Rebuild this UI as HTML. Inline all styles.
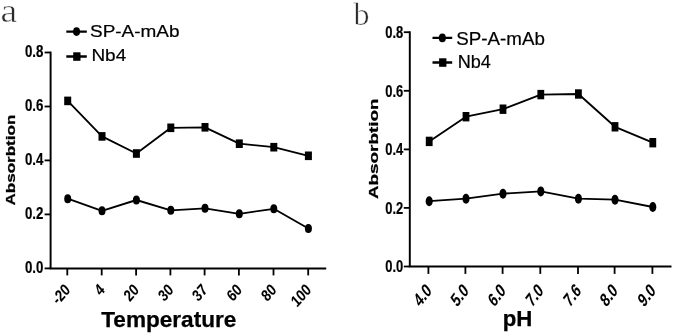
<!DOCTYPE html>
<html><head><meta charset="utf-8"><title>Absorbtion vs Temperature and pH</title>
<style>
html,body{margin:0;padding:0;background:#fff;}
svg{display:block}
text{font-family:"Liberation Sans",Arial,Helvetica,sans-serif;fill:#000}
.b{font-weight:bold;stroke:#000;stroke-width:0.25px}
.tk{font-weight:bold;stroke:#000;stroke-width:0.2px}
.tk.xl{stroke-width:0.08px}
.lg{stroke:#000;stroke-width:0.2px}
.pl{font-family:"Liberation Serif","Noto Serif CJK SC",serif;font-size:32px;fill:#2a2a2a;stroke:#fff;stroke-width:0.55px}
</style></head><body>
<svg width="675" height="336" viewBox="0 0 675 336">
<rect width="675" height="336" fill="#fff"/>

<g stroke="#000" stroke-width="1.95" fill="none" stroke-linecap="butt">
<path d="M50.6 51.6 V268.4"/>
<path d="M49.62 268.4 H326.2"/>
</g><g stroke="#000" stroke-width="1.8" fill="none">
<path d="M44.6 52.5 H50.6"/>
<path d="M44.6 106.5 H50.6"/>
<path d="M44.6 160.4 H50.6"/>
<path d="M44.6 214.4 H50.6"/>
<path d="M44.6 268.4 H50.6"/>
<path d="M67.3 268.4 V275.4"/>
<path d="M101.7 268.4 V275.4"/>
<path d="M136.1 268.4 V275.4"/>
<path d="M170.4 268.4 V275.4"/>
<path d="M204.6 268.4 V275.4"/>
<path d="M238.9 268.4 V275.4"/>
<path d="M273.5 268.4 V275.4"/>
<path d="M308.2 268.4 V275.4"/>
</g>
<text class="tk" font-size="16.1" transform="translate(43.4 57.4) scale(0.825 1)" text-anchor="end">0.8</text>
<text class="tk" font-size="16.1" transform="translate(43.4 111.3) scale(0.825 1)" text-anchor="end">0.6</text>
<text class="tk" font-size="16.1" transform="translate(43.4 165.3) scale(0.825 1)" text-anchor="end">0.4</text>
<text class="tk" font-size="16.1" transform="translate(43.4 219.3) scale(0.825 1)" text-anchor="end">0.2</text>
<text class="tk" font-size="16.1" transform="translate(43.4 273.3) scale(0.825 1)" text-anchor="end">0.0</text>
<text class="tk xl" font-size="14.7" transform="translate(71.1 290.9) scale(1 1.12) rotate(-45) scale(0.87 1)" text-anchor="end">-20</text>
<text class="tk xl" font-size="14.7" transform="translate(105.5 290.9) scale(1 1.12) rotate(-45) scale(0.87 1)" text-anchor="end">4</text>
<text class="tk xl" font-size="14.7" transform="translate(139.9 290.9) scale(1 1.12) rotate(-45) scale(0.87 1)" text-anchor="end">20</text>
<text class="tk xl" font-size="14.7" transform="translate(174.2 290.9) scale(1 1.12) rotate(-45) scale(0.87 1)" text-anchor="end">30</text>
<text class="tk xl" font-size="14.7" transform="translate(208.4 290.9) scale(1 1.12) rotate(-45) scale(0.87 1)" text-anchor="end">37</text>
<text class="tk xl" font-size="14.7" transform="translate(242.7 290.9) scale(1 1.12) rotate(-45) scale(0.87 1)" text-anchor="end">60</text>
<text class="tk xl" font-size="14.7" transform="translate(277.3 290.9) scale(1 1.12) rotate(-45) scale(0.87 1)" text-anchor="end">80</text>
<text class="tk xl" font-size="14.7" transform="translate(312.0 290.9) scale(1 1.12) rotate(-45) scale(0.87 1)" text-anchor="end">100</text>
<polyline points="67.7,100.9 102.0,136.4 136.4,153.5 170.8,127.8 205.0,127.3 239.3,143.7 273.8,147.2 308.4,155.8" fill="none" stroke="#000" stroke-width="1.85" stroke-linejoin="round"/>
<polyline points="67.7,198.7 102.0,210.8 136.4,200.0 170.8,210.3 205.0,208.3 239.3,213.8 273.8,208.8 308.4,228.5" fill="none" stroke="#000" stroke-width="1.85" stroke-linejoin="round"/>
<rect x="64.2" y="96.6" width="7.0" height="8.6"/>
<rect x="98.5" y="132.1" width="7.0" height="8.6"/>
<rect x="132.9" y="149.2" width="7.0" height="8.6"/>
<rect x="167.3" y="123.5" width="7.0" height="8.6"/>
<rect x="201.5" y="123.0" width="7.0" height="8.6"/>
<rect x="235.8" y="139.4" width="7.0" height="8.6"/>
<rect x="270.3" y="142.9" width="7.0" height="8.6"/>
<rect x="304.9" y="151.5" width="7.0" height="8.6"/>
<ellipse cx="67.7" cy="198.7" rx="3.5" ry="4.5"/>
<ellipse cx="102.0" cy="210.8" rx="3.5" ry="4.5"/>
<ellipse cx="136.4" cy="200.0" rx="3.5" ry="4.5"/>
<ellipse cx="170.8" cy="210.3" rx="3.5" ry="4.5"/>
<ellipse cx="205.0" cy="208.3" rx="3.5" ry="4.5"/>
<ellipse cx="239.3" cy="213.8" rx="3.5" ry="4.5"/>
<ellipse cx="273.8" cy="208.8" rx="3.5" ry="4.5"/>
<ellipse cx="308.4" cy="228.5" rx="3.5" ry="4.5"/>
<g stroke="#000" stroke-width="1.95" fill="none" stroke-linecap="butt">
<path d="M409.8 31.3 V266.5"/>
<path d="M408.82 266.5 H671.5"/>
</g><g stroke="#000" stroke-width="1.8" fill="none">
<path d="M403.8 32.2 H409.8"/>
<path d="M403.8 90.8 H409.8"/>
<path d="M403.8 149.4 H409.8"/>
<path d="M403.8 207.9 H409.8"/>
<path d="M403.8 266.5 H409.8"/>
<path d="M428.4 266.5 V273.9"/>
<path d="M465.4 266.5 V273.9"/>
<path d="M502.6 266.5 V273.9"/>
<path d="M540.3 266.5 V273.9"/>
<path d="M578.0 266.5 V273.9"/>
<path d="M614.6 266.5 V273.9"/>
<path d="M652.4 266.5 V273.9"/>
</g>
<text class="tk" font-size="16.6" transform="translate(403.2 38.1) scale(0.78 1)" text-anchor="end">0.8</text>
<text class="tk" font-size="16.6" transform="translate(403.2 96.7) scale(0.78 1)" text-anchor="end">0.6</text>
<text class="tk" font-size="16.6" transform="translate(403.2 155.3) scale(0.78 1)" text-anchor="end">0.4</text>
<text class="tk" font-size="16.6" transform="translate(403.2 213.9) scale(0.78 1)" text-anchor="end">0.2</text>
<text class="tk" font-size="16.6" transform="translate(403.2 272.4) scale(0.78 1)" text-anchor="end">0.0</text>
<text class="tk xl" font-size="15.0" transform="translate(432.3 291.8) scale(1 1.3) rotate(-45) scale(0.83 1)" text-anchor="end">4.0</text>
<text class="tk xl" font-size="15.0" transform="translate(469.3 291.8) scale(1 1.3) rotate(-45) scale(0.83 1)" text-anchor="end">5.0</text>
<text class="tk xl" font-size="15.0" transform="translate(506.5 291.8) scale(1 1.3) rotate(-45) scale(0.83 1)" text-anchor="end">6.0</text>
<text class="tk xl" font-size="15.0" transform="translate(544.2 291.8) scale(1 1.3) rotate(-45) scale(0.83 1)" text-anchor="end">7.0</text>
<text class="tk xl" font-size="15.0" transform="translate(581.9 291.8) scale(1 1.3) rotate(-45) scale(0.83 1)" text-anchor="end">7.6</text>
<text class="tk xl" font-size="15.0" transform="translate(618.5 291.8) scale(1 1.3) rotate(-45) scale(0.83 1)" text-anchor="end">8.0</text>
<text class="tk xl" font-size="15.0" transform="translate(656.3 291.8) scale(1 1.3) rotate(-45) scale(0.83 1)" text-anchor="end">9.0</text>
<polyline points="429.2,141.4 466.0,116.7 503.0,109.2 540.8,94.6 578.4,94.0 615.0,126.8 652.8,142.7" fill="none" stroke="#000" stroke-width="1.85" stroke-linejoin="round"/>
<polyline points="429.2,201.2 466.0,198.7 503.0,193.7 540.8,191.4 578.4,198.7 615.0,199.7 652.8,207.0" fill="none" stroke="#000" stroke-width="1.85" stroke-linejoin="round"/>
<rect x="425.8" y="136.7" width="6.8" height="9.4"/>
<rect x="462.6" y="112.0" width="6.8" height="9.4"/>
<rect x="499.6" y="104.5" width="6.8" height="9.4"/>
<rect x="537.4" y="89.9" width="6.8" height="9.4"/>
<rect x="575.0" y="89.3" width="6.8" height="9.4"/>
<rect x="611.6" y="122.1" width="6.8" height="9.4"/>
<rect x="649.4" y="138.0" width="6.8" height="9.4"/>
<ellipse cx="429.2" cy="201.2" rx="3.55" ry="5.0"/>
<ellipse cx="466.0" cy="198.7" rx="3.55" ry="5.0"/>
<ellipse cx="503.0" cy="193.7" rx="3.55" ry="5.0"/>
<ellipse cx="540.8" cy="191.4" rx="3.55" ry="5.0"/>
<ellipse cx="578.4" cy="198.7" rx="3.55" ry="5.0"/>
<ellipse cx="615.0" cy="199.7" rx="3.55" ry="5.0"/>
<ellipse cx="652.8" cy="207.0" rx="3.55" ry="5.0"/>
<path d="M66.3 31.6 H86.8 M66.3 56.5 H86.8" stroke="#000" stroke-width="2.3"/>
<ellipse cx="76.55" cy="31.6" rx="3.5" ry="4.3"/>
<rect x="73.2" y="52.3" width="7.3" height="8.5"/>
<text class="lg" font-size="17.4" x="90.0" y="37.4" textLength="89.5" lengthAdjust="spacingAndGlyphs">SP-A-mAb</text>
<text class="lg" font-size="17.4" x="91.4" y="60.5" textLength="34.8" lengthAdjust="spacingAndGlyphs">Nb4</text>
<path d="M432.5 37.9 H452.2 M432.5 62.5 H452.2" stroke="#000" stroke-width="2.3"/>
<ellipse cx="442.35" cy="37.9" rx="3.5" ry="4.3"/>
<rect x="439.1" y="58.3" width="7.3" height="8.5"/>
<text class="lg" font-size="17.8" x="456.3" y="44.7" textLength="88.6" lengthAdjust="spacingAndGlyphs">SP-A-mAb</text>
<text class="lg" font-size="17.8" x="457.7" y="68.1" textLength="33.2" lengthAdjust="spacingAndGlyphs">Nb4</text>
<text class="b" font-size="12.8" transform="translate(14.8 205.6) rotate(-90)" textLength="91" lengthAdjust="spacingAndGlyphs">Absorbtion</text>
<text class="b" font-size="13.2" transform="translate(378.4 199) rotate(-90)" textLength="100.5" lengthAdjust="spacingAndGlyphs">Absorbtion</text>
<text class="b" font-size="21.5" x="101.2" y="326.6" textLength="135.2" lengthAdjust="spacingAndGlyphs">Temperature</text>
<text class="b" font-size="21.6" x="502.7" y="325.9" textLength="29.6" lengthAdjust="spacingAndGlyphs">pH</text>
<text class="pl" transform="translate(0.6 21.7) scale(1.18 1.02)">a</text>
<text class="pl" transform="translate(353.4 24.8) scale(1.0 1)">b</text>
</svg></body></html>
